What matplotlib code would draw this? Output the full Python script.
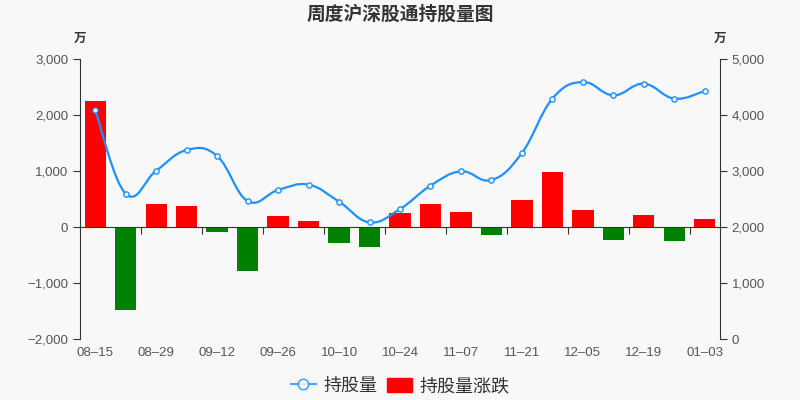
import matplotlib
matplotlib.use("Agg")
import matplotlib.pyplot as plt
from matplotlib.path import Path
from matplotlib.patches import PathPatch, Patch
from matplotlib.lines import Line2D
from matplotlib.ticker import FuncFormatter
import numpy as np

plt.rcParams['font.family'] = ['Noto Sans CJK SC', 'DejaVu Sans']
plt.rcParams['axes.unicode_minus'] = True

# 数据
dates = ["08-15", "08-22", "08-29", "09-05", "09-12", "09-19", "09-26", "10-03",
         "10-10", "10-17", "10-24", "10-31", "11-07", "11-14", "11-21", "11-28",
         "12-05", "12-12", "12-19", "12-26", "01-03"]
holding = [4083, 2595, 3006, 3375, 3268, 2464, 2661, 2756, 2452, 2083, 2321,
           2738, 2994, 2839, 3321, 4292, 4589, 4351, 4560, 4292, 4429]
change = [2250, -1476, 411, 375, -89, -792, 202, 101, -286, -357, 250,
          417, 268, -143, 488, 982, 304, -226, 214, -250, 149]

LEFT_LIM = (-2000, 3000)
RIGHT_LIM = (0, 5000)
TEXT = '#333333'
TICK = '#555555'
BLUE = '#1e90ff'
BG = '#f8f8f8'
TICK_FONT = ['Liberation Sans', 'DejaVu Sans']


def thousands(v, pos):
    s = "{:,}".format(int(v))
    return s.replace('-', '\u2212')


def smooth_path(x, y, t=0.2):
    # bezier smoothing similar to echarts' smooth line
    n = len(x)
    pts = np.column_stack([x, y]).astype(float)
    verts = [pts[0]]
    codes = [Path.MOVETO]
    for i in range(n - 1):
        p_prev = pts[i - 1] if i > 0 else pts[i]
        p0, p1 = pts[i], pts[i + 1]
        p_next = pts[i + 2] if i + 2 < n else pts[i + 1]
        c1 = p0 + (p1 - p_prev) * t
        c2 = p1 - (p_next - p0) * t
        verts += [c1, c2, p1]
        codes += [Path.CURVE4] * 3
    return Path(verts, codes)


fig = plt.figure(figsize=(8, 4), dpi=100)
fig.patch.set_facecolor(BG)
ax = fig.add_axes([0.1, 0.1525, 0.8, 0.7])
ax.set_facecolor(BG)

x = np.arange(len(dates))
colors = ['#ff0000' if v >= 0 else '#008000' for v in change]
ax.bar(x, change, width=0.7, color=colors, zorder=2)

ax.set_xlim(-0.5, len(dates) - 0.5)
ax.set_ylim(*LEFT_LIM)
ax.set_yticks(np.arange(LEFT_LIM[0], LEFT_LIM[1] + 1, 1000))
ax.yaxis.set_major_formatter(FuncFormatter(thousands))

# x轴线在0处，标签在底部
ax.spines['bottom'].set_position(('data', 0))
ax.spines['bottom'].set_color(TEXT)
ax.set_xticks(np.arange(1.5, len(dates) - 1, 2))
ax.tick_params(axis='x', direction='out', length=5, color=TEXT, labelbottom=False)
ax.spines['top'].set_visible(False)
ax.spines['right'].set_visible(False)
ax.spines['left'].set_color(TEXT)
ax.tick_params(axis='y', direction='out', length=5, color=TEXT, labelcolor=TICK,
               labelsize=9.5)

sec = ax.secondary_xaxis('bottom')
sec.spines['bottom'].set_visible(False)
sec.set_xticks(x[::2], labels=[d.replace('-', '\u2013') for d in dates[::2]])
sec.tick_params(length=0, pad=6, labelcolor=TICK, labelsize=9.5)

ax2 = ax.twinx()
ax2.set_ylim(*RIGHT_LIM)
ax2.set_yticks(np.arange(RIGHT_LIM[0], RIGHT_LIM[1] + 1, 1000))
ax2.yaxis.set_major_formatter(FuncFormatter(thousands))
for s in ['top', 'left', 'bottom']:
    ax2.spines[s].set_visible(False)
ax2.spines['right'].set_color(TEXT)
ax2.tick_params(axis='y', direction='out', length=5, color=TEXT, labelcolor=TICK,
                labelsize=9.5)

for lab in ax.get_yticklabels() + ax2.get_yticklabels() + sec.get_xticklabels():
    lab.set_family(TICK_FONT)

ax2.add_patch(PathPatch(smooth_path(x, holding), facecolor='none',
                        edgecolor=BLUE, linewidth=1.6, zorder=3))
ax2.plot(x, holding, 'o', ms=3.8, mfc='white', mec=BLUE, mew=1.0, zorder=4)

fig.text(0.5, 0.965, "周度沪深股通持股量图", ha='center', va='center',
         fontsize=13.5, fontweight='bold', color=TEXT)
fig.text(0.1, 0.905, "万", ha='center', va='center', fontsize=9,
         fontweight='bold', color=TEXT)
fig.text(0.9, 0.905, "万", ha='center', va='center', fontsize=9,
         fontweight='bold', color=TEXT)

handles = [
    Line2D([0], [0], color=BLUE, lw=1.5, marker='o', ms=7.5, mfc='white',
           mec=BLUE, mew=1.2, alpha=0.8),
    Patch(facecolor='#ff0000', edgecolor='#ff0000'),
]
fig.legend(handles, ["持股量", "持股量涨跌"], loc='center',
           bbox_to_anchor=(0.5, 0.035), ncol=2, frameon=False,
           fontsize=13, labelcolor=TEXT, handlelength=1.4,
           handleheight=0.78, columnspacing=0.55, handletextpad=0.4)

fig.savefig("out.png", dpi=100, facecolor=BG)
